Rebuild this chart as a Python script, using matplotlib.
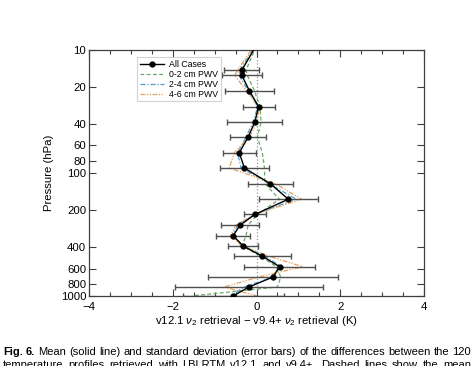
import matplotlib
matplotlib.use("Agg")
import matplotlib.pyplot as plt
from matplotlib.ticker import FixedLocator, NullLocator, MultipleLocator

plt.rcParams['font.family'] = ['Liberation Sans', 'DejaVu Sans']
plt.rcParams['mathtext.fontset'] = 'custom'
plt.rcParams['mathtext.it'] = 'Liberation Sans:italic'
plt.rcParams['mathtext.rm'] = 'Liberation Sans'

# ==========================================
# DATA
# ==========================================
pressure = [8.5, 14.7, 16.2, 21.6, 29.1, 38.8, 51.3, 68.8, 91.5, 122.7,
            164, 218, 266, 324, 393, 476, 578, 702, 845, 995]

# all cases: mean and standard deviation (K)
all_mean = [0.06, -0.35, -0.35, -0.17, 0.05, -0.04, -0.20, -0.41, -0.29, 0.33,
            0.76, -0.04, -0.39, -0.56, -0.32, 0.14, 0.55, 0.39, -0.18, -0.55]
all_std = [0.40, 0.42, 0.48, 0.58, 0.38, 0.66, 0.43, 0.40, 0.59, 0.53,
           0.71, 0.26, 0.45, 0.41, 0.35, 0.68, 0.85, 1.55, 1.77, 1.20]

# means for PWV subsets
pwv_0_2 = [0.05, -0.25, -0.22, -0.05, 0.08, 0.11, 0.02, 0.14, 0.19, 0.20,
           0.55, 0.02, -0.20, -0.25, -0.35, 0.10, 0.47, 0.58, 0.50, -1.50]
pwv_2_4 = [0.05, -0.40, -0.42, -0.20, 0.03, -0.08, -0.25, -0.45, -0.37, 0.30,
           0.95, -0.05, -0.45, -0.58, -0.30, 0.20, 0.60, 0.40, -0.30, -0.60]
pwv_4_6 = [0.02, -0.45, -0.52, -0.25, 0.06, 0.02, -0.17, -0.53, -0.65, 0.45,
           1.08, -0.05, -0.50, -0.62, -0.35, 0.30, 1.10, 0.05, -0.77, 0.00]

subset_labels = ['0-2 cm PWV', '2-4 cm PWV', '4-6 cm PWV']
ytick_vals = [10, 20, 40, 60, 80, 100, 200, 400, 600, 800, 1000]
xtick_vals = [-4, -2, 0, 2, 4]

caption_1 = [("Fig.", 'bold'), ("6.", 'bold')] + [
    (w, 'normal') for w in
    "Mean (solid line) and standard deviation (error bars) of the differences between the 120".split()]
caption_2 = [(w, 'normal') for w in
             "temperature profiles retrieved with LBLRTM v12.1 and v9.4+. Dashed lines show the mean".split()]

# ==========================================
# PLOT
# ==========================================
fig = plt.figure(figsize=(4.74, 3.66), dpi=100)
W, H = 474.0, 366.0
ax = fig.add_axes([89 / W, 1 - 296 / H, (424 - 89) / W, (296 - 49.5) / H])

ax.axvline(0, color='#8fa08f', linestyle=':', linewidth=0.9, zorder=1)

ax.plot(pwv_0_2, pressure, color='#6aa86a', linestyle=(0, (3, 2)), linewidth=0.9, zorder=2)
ax.plot(pwv_2_4, pressure, color='#4f9ec4', linestyle=(0, (4, 1.5, 1, 1.5)), linewidth=0.9, zorder=2)
ax.plot(pwv_4_6, pressure, color='#e9a25e', linestyle=(0, (4, 1.2, 1, 1.2, 1, 1.2)), linewidth=0.9, zorder=2)

ax.errorbar(all_mean, pressure, xerr=all_std, color='black', ecolor='#505050',
            elinewidth=1.0, capsize=2, capthick=1.0, marker='o', markersize=3.5,
            linewidth=1.0, zorder=3)

ax.set_yscale('log')
ax.set_ylim(1000, 10)
ax.set_xlim(-4, 4)
ax.yaxis.set_major_locator(FixedLocator(ytick_vals))
ax.yaxis.set_minor_locator(NullLocator())
ax.set_yticklabels([str(v) for v in ytick_vals])
ax.xaxis.set_major_locator(FixedLocator(xtick_vals))
ax.xaxis.set_minor_locator(MultipleLocator(0.5))
ax.set_xticklabels(['\u22124', '\u22122', '0', '2', '4'])

ax.tick_params(which='both', direction='in', top=True, right=True, color='#404040',
               labelsize=8.2, width=0.8)
ax.tick_params(which='major', length=5)
ax.tick_params(which='minor', length=3)
ax.tick_params(axis='x', pad=4)
ax.tick_params(axis='y', pad=2)
for s in ax.spines.values():
    s.set_color('#404040')
    s.set_linewidth(0.9)

ax.set_xlabel('v12.1 $\\nu_2$ retrieval \u2212 v9.4+ $\\nu_2$ retrieval (K)', fontsize=8.2, labelpad=2)
ax.set_ylabel('Pressure (hPa)', fontsize=8.2, labelpad=5)

# legend built from proxy lines
h_all = plt.Line2D([], [], color='black', marker='o', markersize=3.5, linewidth=1.0)
h1 = plt.Line2D([], [], color='#6aa86a', linestyle=(0, (3, 2)), linewidth=0.9)
h2 = plt.Line2D([], [], color='#4f9ec4', linestyle=(0, (4, 1.5, 1, 1.5)), linewidth=0.9)
h3 = plt.Line2D([], [], color='#e9a25e', linestyle=(0, (4, 1.2, 1, 1.2, 1, 1.2)), linewidth=0.9)
leg = ax.legend([h_all, h1, h2, h3], ['All Cases'] + subset_labels,
                loc='upper left', bbox_to_anchor=((137 - 89) / 335.0, 1 - (57 - 49.5) / 246.5),
                fontsize=6.3, frameon=True, fancybox=False, edgecolor='#c8c8c8',
                borderpad=0.3, labelspacing=0.12, handlelength=2.8, handletextpad=0.6,
                borderaxespad=0)
leg.get_frame().set_linewidth(0.8)

# ==========================================
# CAPTION (justified word by word)
# ==========================================
fig.canvas.draw()
rend = fig.canvas.get_renderer()

# pick a font size so the first line, with ordinary spaces, fills the width
probe = fig.text(0, 0, "Fig. 6. Mean (solid line) and standard deviation (error bars) of the differences between the 120",
                 fontsize=10)
cap_size = 10 * 464.0 / probe.get_window_extent(rend).width
probe.remove()


def justify(words, baseline_px, x0=3.0, x1=471.0, size=9.0):
    texts = []
    total = 0.0
    for w, wt in words:
        t = fig.text(0, baseline_px / H, w, fontsize=size, weight=wt, va='baseline')
        total += t.get_window_extent(rend).width
        texts.append(t)
    gap = (x1 - x0 - total) / (len(texts) - 1)
    x = x0
    for t in texts:
        t.set_x(x / W)
        x += t.get_window_extent(rend).width + gap


justify(caption_1, 11.0, size=cap_size)
justify(caption_2, -2.5, size=cap_size)

fig.savefig('out.png', dpi=100)
